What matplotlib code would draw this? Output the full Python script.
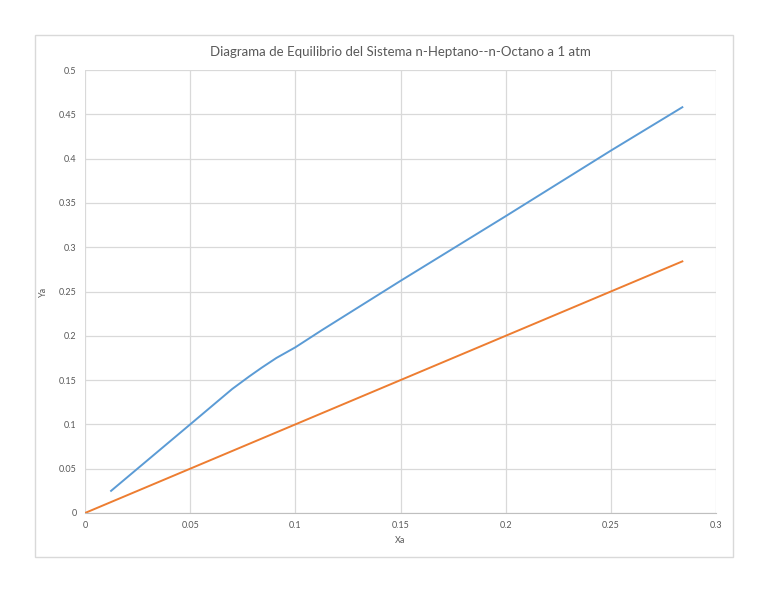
import matplotlib
matplotlib.use("Agg")
import matplotlib.pyplot as plt
from matplotlib.patches import Rectangle

# vapour–liquid data
xa = [0.0124, 0.05, 0.070, 0.078, 0.084, 0.091, 0.100, 0.1127, 0.15, 0.20, 0.25, 0.284]
ya = [0.025, 0.100, 0.140, 0.154, 0.164, 0.175, 0.187, 0.2065, 0.262, 0.335, 0.409, 0.458]
# y = x reference line
diag = [0.0, 0.284]

x_ticks = [0, 0.05, 0.1, 0.15, 0.2, 0.25, 0.3]
x_labels = ["0", "0.05", "0.1", "0.15", "0.2", "0.25", "0.3"]
y_ticks = [0, 0.05, 0.1, 0.15, 0.2, 0.25, 0.3, 0.35, 0.4, 0.45, 0.5]
y_labels = ["0", "0.05", "0.1", "0.15", "0.2", "0.25", "0.3", "0.35", "0.4", "0.45", "0.5"]

plt.rcParams["font.family"] = ["Lato", "DejaVu Sans"]
TXT = "#595959"
GRID = "#d9d9d9"

fig = plt.figure(figsize=(7.68, 5.94), dpi=100)
fig.patches.append(Rectangle((35 / 768, 37 / 594), 698 / 768, 522 / 594,
                             transform=fig.transFigure, fill=False,
                             edgecolor=GRID, lw=1))
ax = fig.add_axes([85 / 768, 81 / 594, 631 / 768, 443 / 594])

ax.plot(xa, ya, color="#5B9BD5", lw=1.4)
ax.plot(diag, diag, color="#ED7D31", lw=1.4)

ax.set_xlim(0, 0.3); ax.set_ylim(0, 0.5)
ax.set_xticks(x_ticks, x_labels); ax.set_yticks(y_ticks, y_labels)
ax.grid(True, color=GRID, lw=0.9)
ax.set_axisbelow(True)
for s in ("top", "right", "left"):
    ax.spines[s].set_visible(False)
ax.spines["bottom"].set_color("#bfbfbf")
ax.tick_params(length=0, labelsize=6.5, labelcolor=TXT, pad=6)

ax.set_xlabel("Xa", fontsize=6.5, color=TXT, labelpad=4)
ax.set_ylabel("Ya", fontsize=6.5, color=TXT, labelpad=8)
ax.set_title("Diagrama de Equilibrio del Sistema n-Heptano--n-Octano a 1 atm",
             fontsize=9.5, color=TXT, pad=10)

fig.savefig("out.png", dpi=100)
